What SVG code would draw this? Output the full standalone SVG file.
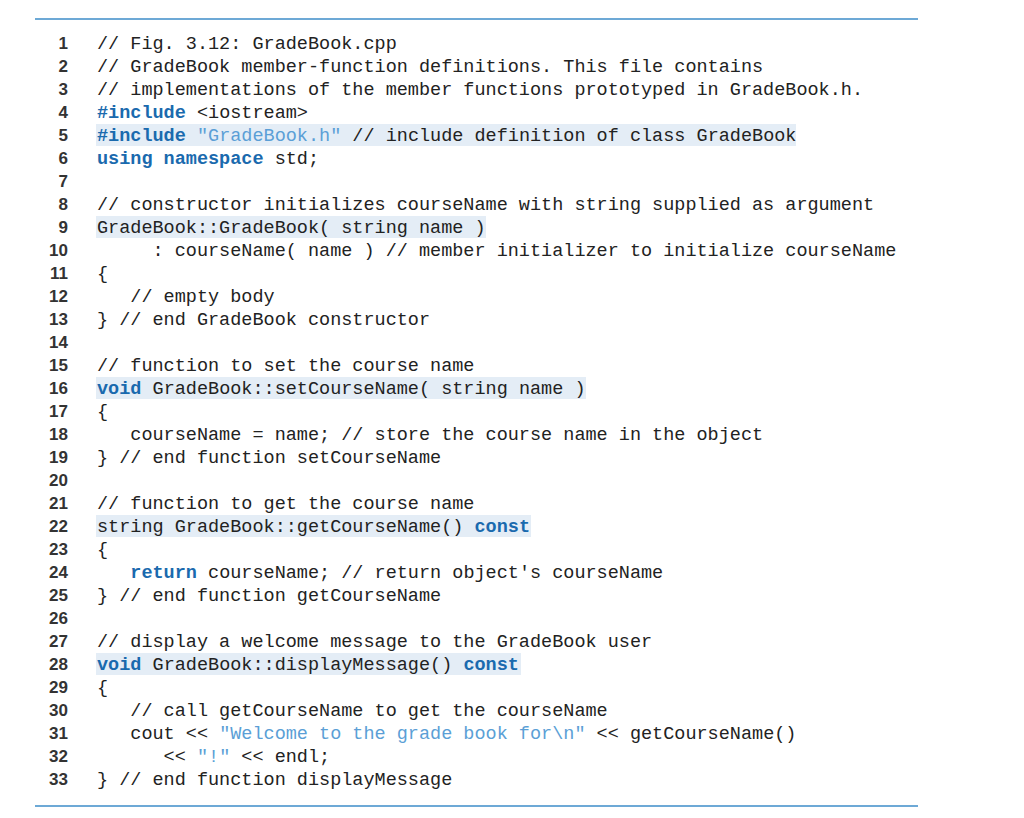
<svg xmlns="http://www.w3.org/2000/svg" width="1024" height="818" viewBox="0 0 1024 818">
<style>
.c{font-family:"Liberation Mono",monospace;font-size:18.5px;fill:#222;white-space:pre}
.n{font-family:"Liberation Sans",Arial,sans-serif;font-size:17px;font-weight:bold;fill:#333;text-anchor:end}
.k{fill:#1a6aae;font-weight:bold}
.s{fill:#5b9fd6}
.h{fill:#e4edf6}
.r{stroke:#3d8cc8;stroke-width:1.5}
</style>
<rect width="1024" height="818" fill="#fff"/>
<line class="r" x1="35" y1="19" x2="918" y2="19"/>
<line class="r" x1="35" y1="806" x2="918" y2="806"/>
<g id="highlights">
<rect class="h" x="96" y="124" width="700" height="22"/>
<rect class="h" x="96" y="216" width="390" height="22"/>
<rect class="h" x="96" y="377" width="490" height="22"/>
<rect class="h" x="96" y="515" width="435" height="22"/>
<rect class="h" x="96" y="653" width="425" height="22"/>
</g>
<g id="linenumbers">
<text class="n" x="68" y="49">1</text><text class="n" x="68" y="72">2</text><text class="n" x="68" y="95">3</text><text class="n" x="68" y="118">4</text><text class="n" x="68" y="141">5</text><text class="n" x="68" y="164">6</text><text class="n" x="68" y="187">7</text><text class="n" x="68" y="210">8</text><text class="n" x="68" y="233">9</text><text class="n" x="68" y="256">10</text><text class="n" x="68" y="279">11</text><text class="n" x="68" y="302">12</text><text class="n" x="68" y="325">13</text><text class="n" x="68" y="348">14</text><text class="n" x="68" y="371">15</text><text class="n" x="68" y="394">16</text><text class="n" x="68" y="417">17</text><text class="n" x="68" y="440">18</text><text class="n" x="68" y="463">19</text><text class="n" x="68" y="486">20</text><text class="n" x="68" y="509">21</text><text class="n" x="68" y="532">22</text><text class="n" x="68" y="555">23</text><text class="n" x="68" y="578">24</text><text class="n" x="68" y="601">25</text><text class="n" x="68" y="624">26</text><text class="n" x="68" y="647">27</text><text class="n" x="68" y="670">28</text><text class="n" x="68" y="693">29</text><text class="n" x="68" y="716">30</text><text class="n" x="68" y="739">31</text><text class="n" x="68" y="762">32</text><text class="n" x="68" y="785">33</text>
</g>
<g id="code" xml:space="preserve">
<text class="c" x="97" y="49">// Fig. 3.12: GradeBook.cpp</text>
<text class="c" x="97" y="72">// GradeBook member-function definitions. This file contains</text>
<text class="c" x="97" y="95">// implementations of the member functions prototyped in GradeBook.h.</text>
<text class="c" x="97" y="118"><tspan class="k">#include</tspan> &lt;iostream&gt;</text>
<text class="c" x="97" y="141"><tspan class="k">#include</tspan> <tspan class="s">"GradeBook.h"</tspan> // include definition of class GradeBook</text>
<text class="c" x="97" y="164"><tspan class="k">using namespace</tspan> std;</text>
<text class="c" x="97" y="210">// constructor initializes courseName with string supplied as argument</text>
<text class="c" x="97" y="233">GradeBook::GradeBook( string name )</text>
<text class="c" x="97" y="256">     : courseName( name ) // member initializer to initialize courseName</text>
<text class="c" x="97" y="279">{</text>
<text class="c" x="97" y="302">   // empty body</text>
<text class="c" x="97" y="325">} // end GradeBook constructor</text>
<text class="c" x="97" y="371">// function to set the course name</text>
<text class="c" x="97" y="394"><tspan class="k">void</tspan> GradeBook::setCourseName( string name )</text>
<text class="c" x="97" y="417">{</text>
<text class="c" x="97" y="440">   courseName = name; // store the course name in the object</text>
<text class="c" x="97" y="463">} // end function setCourseName</text>
<text class="c" x="97" y="509">// function to get the course name</text>
<text class="c" x="97" y="532">string GradeBook::getCourseName() <tspan class="k">const</tspan></text>
<text class="c" x="97" y="555">{</text>
<text class="c" x="97" y="578">   <tspan class="k">return</tspan> courseName; // return object's courseName</text>
<text class="c" x="97" y="601">} // end function getCourseName</text>
<text class="c" x="97" y="647">// display a welcome message to the GradeBook user</text>
<text class="c" x="97" y="670"><tspan class="k">void</tspan> GradeBook::displayMessage() <tspan class="k">const</tspan></text>
<text class="c" x="97" y="693">{</text>
<text class="c" x="97" y="716">   // call getCourseName to get the courseName</text>
<text class="c" x="97" y="739">   cout &lt;&lt; <tspan class="s">"Welcome to the grade book for\n"</tspan> &lt;&lt; getCourseName()</text>
<text class="c" x="97" y="762">      &lt;&lt; <tspan class="s">"!"</tspan> &lt;&lt; endl;</text>
<text class="c" x="97" y="785">} // end function displayMessage</text>
</g>
</svg>
